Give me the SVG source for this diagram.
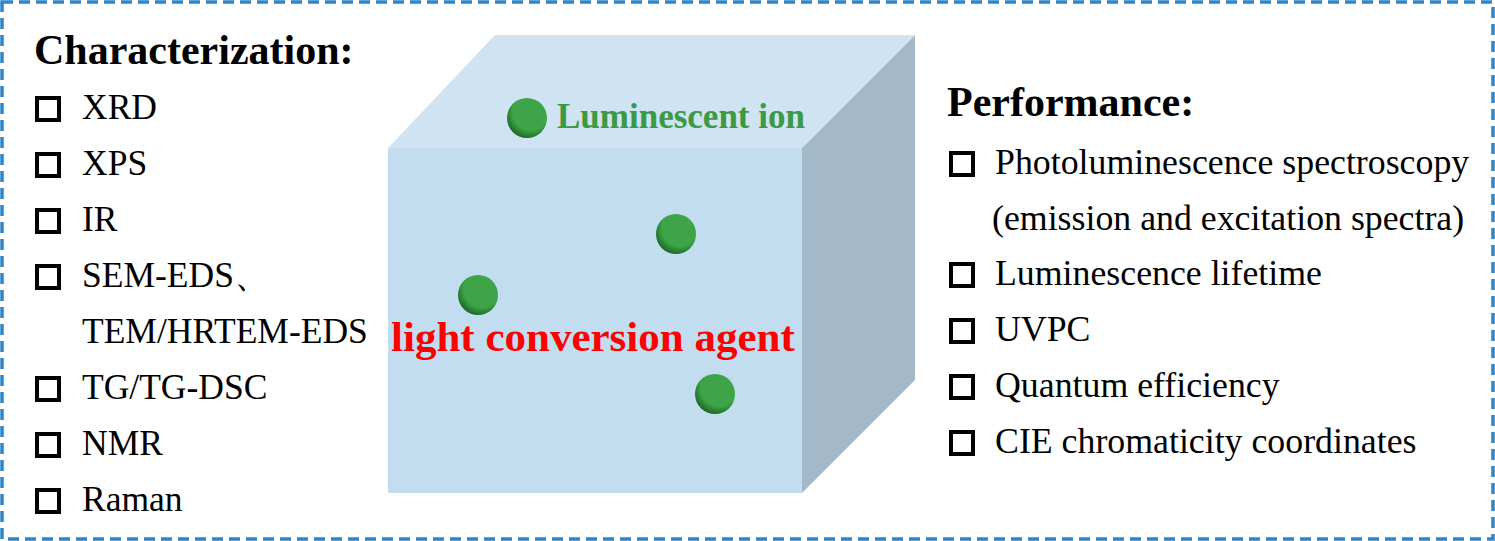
<svg xmlns="http://www.w3.org/2000/svg" width="1495" height="541" viewBox="0 0 1495 541">
<style>
.t{font-family:"Liberation Serif",serif;font-size:35.5px;fill:#000}
.r{font-family:"Liberation Serif",serif;font-size:35.8px;fill:#000}
.h{font-family:"Liberation Serif",serif;font-size:42px;font-weight:bold;fill:#000}
.cb{fill:none;stroke:#000;stroke-width:4}
</style>
<defs>
<radialGradient id="g" cx="0.6" cy="0.35" r="0.65">
<stop offset="0.7" stop-color="#3da447"/><stop offset="1" stop-color="#1f6e2a"/>
</radialGradient>
</defs>
<rect x="2" y="2" width="1491" height="537" fill="#fff" stroke="#2e86c8" stroke-width="3.5" stroke-dasharray="11 6"/>
<g id="cube">
<polygon points="388,148 495,35 915,35 802,148" fill="#d0e3f2"/>
<polygon points="802,148 915,35 915,380 802,493" fill="#a3b9c9"/>
<rect x="388" y="148" width="414" height="345" fill="#c3ddf0"/>
<circle cx="527" cy="118" r="20" fill="url(#g)"/>
<circle cx="676" cy="234" r="20" fill="url(#g)"/>
<circle cx="478" cy="295" r="20" fill="url(#g)"/>
<circle cx="715" cy="394" r="20" fill="url(#g)"/>
<text x="557" y="128" font-family="Liberation Serif,serif" font-size="35" font-weight="bold" fill="#3a9a45">Luminescent ion</text>
<text x="391" y="351" font-family="Liberation Serif,serif" font-size="43" font-weight="bold" fill="#f00">light conversion agent</text>
</g>
<g id="left">
<text class="h" x="34" y="64">Characterization:</text>
<rect class="cb" x="37" y="98" width="22" height="22"/><text class="t" x="82" y="119">XRD</text>
<rect class="cb" x="37" y="154" width="22" height="22"/><text class="t" x="82" y="175">XPS</text>
<rect class="cb" x="37" y="210" width="22" height="22"/><text class="t" x="82" y="231">IR</text>
<rect class="cb" x="37" y="266" width="22" height="22"/><text class="t" x="82" y="287">SEM-EDS、</text>
<text class="t" x="82" y="343">TEM/HRTEM-EDS</text>
<rect class="cb" x="37" y="378" width="22" height="22"/><text class="t" x="82" y="399">TG/TG-DSC</text>
<rect class="cb" x="37" y="434" width="22" height="22"/><text class="t" x="82" y="455">NMR</text>
<rect class="cb" x="37" y="490" width="22" height="22"/><text class="t" x="82" y="511">Raman</text>
</g>
<g id="right">
<text class="h" x="947" y="116">Performance:</text>
<rect class="cb" x="951" y="153" width="22" height="22"/><text class="r" x="995" y="174">Photoluminescence spectroscopy</text>
<text class="r" x="992" y="230">(emission and excitation spectra)</text>
<rect class="cb" x="951" y="264" width="22" height="22"/><text class="r" x="995" y="285">Luminescence lifetime</text>
<rect class="cb" x="951" y="320" width="22" height="22"/><text class="r" x="995" y="341">UVPC</text>
<rect class="cb" x="951" y="376" width="22" height="22"/><text class="r" x="995" y="397">Quantum efficiency</text>
<rect class="cb" x="951" y="432" width="22" height="22"/><text class="r" x="995" y="453">CIE chromaticity coordinates</text>
</g>
</svg>
